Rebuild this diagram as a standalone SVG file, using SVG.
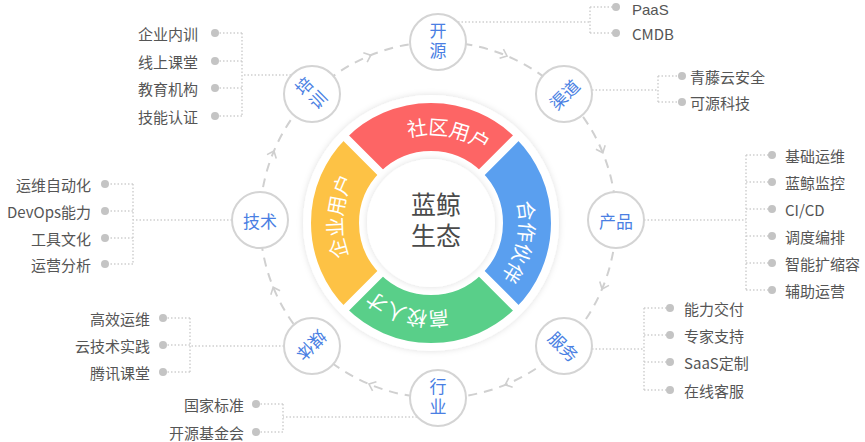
<svg xmlns="http://www.w3.org/2000/svg" width="865" height="442" viewBox="0 0 865 442">
<style>
.lst{font-family:"Noto Sans CJK SC","Liberation Sans",sans-serif;font-size:15px;fill:#555;dominant-baseline:central}
.sat{fill:#fff;stroke:#d4d4d4;stroke-width:2}
.st{font-family:"Noto Sans CJK SC","Liberation Sans",sans-serif;font-size:17px;fill:#4a7fe3;dominant-baseline:central;text-anchor:middle}
.vt{writing-mode:vertical-rl;letter-spacing:3px}
.seg{font-family:"Noto Sans CJK SC","Liberation Sans",sans-serif;font-size:20px;fill:#fff}
.ctr{font-family:"Liberation Sans","Noto Sans CJK SC",sans-serif;font-size:25px;fill:#4a4a4a;text-anchor:middle}
.dot{fill:#c4c4c4}
.dl{fill:none;stroke:#cfcfcf;stroke-width:1.5;stroke-dasharray:1.5 2}
.arw{fill:none;stroke:#cfcfcf;stroke-width:1.6}
</style>
<defs>
<filter id="sh" x="-20%" y="-20%" width="140%" height="140%"><feDropShadow dx="0" dy="0" stdDeviation="3" flood-color="#000" flood-opacity="0.13"/></filter>
<path id="chev" d="M-5,-5 L1,0 L-5,5"/>
<path id="pRed" d="M364.21,164.94 A88.5,88.5 0 0 1 514.68,194.19"/>
<path id="pBlue" d="M490.22,157.23 A88.5,88.5 0 0 1 458.35,307.17"/>
<path id="pGreen" d="M493.58,285.58 A88.5,88.5 0 0 1 345.52,245.91"/>
<path id="pYellow" d="M381.51,296.37 A88.5,88.5 0 0 1 392.20,143.46"/>
</defs>
<rect width="865" height="442" fill="#fff"/>

<g id="orbit">
<circle cx="438" cy="220" r="178" fill="none" stroke="#d0d0d0" stroke-width="2" stroke-dasharray="9 7"/>
<g class="arw">
<use href="#chev" transform="translate(506.12,55.55) rotate(22.5)"/>
<use href="#chev" transform="translate(602.45,151.88) rotate(67.5)"/>
<use href="#chev" transform="translate(602.45,288.12) rotate(112.5)"/>
<use href="#chev" transform="translate(506.12,384.45) rotate(157.5)"/>
<use href="#chev" transform="translate(369.88,384.45) rotate(202.5)"/>
<use href="#chev" transform="translate(273.55,288.12) rotate(247.5)"/>
<use href="#chev" transform="translate(273.55,151.88) rotate(292.5)"/>
<use href="#chev" transform="translate(369.88,55.55) rotate(337.5)"/>
</g>
</g>

<g id="connectors" class="dl">
<path d="M458,22 H590 M590,7 V33 M590,7 H612 M590,33 H612"/>
<path d="M592,90 H658 M658,76 V102 M658,76 H678 M658,102 H678"/>
<path d="M644,220 H746 M746,155 V290 M746,155 H768 M746,182 H768 M746,209 H768 M746,236 H768 M746,263 H768 M746,290 H768"/>
<path d="M592,349 H644 M644,308 V390 M644,308 H666 M644,335 H666 M644,362 H666 M644,390 H666"/>
<path d="M417,417 H283 M283,404 V432 M283,404 H260 M283,432 H260"/>
<path d="M284,346 H190 M190,318 V372 M190,318 H167 M190,345 H167 M190,372 H167"/>
<path d="M232,220 H133 M133,184 V264 M133,184 H109 M133,211 H109 M133,238 H109 M133,264 H109"/>
<path d="M291,75 H242 M242,33 V116 M242,33 H219 M242,61 H219 M242,88 H219 M242,116 H219"/>
</g>

<g id="core">
<circle cx="431" cy="223" r="128" fill="#fff" filter="url(#sh)"/>
<path d="M363.12,155.12 A96,96 0 0 1 498.88,155.12" fill="none" stroke="#fd6565" stroke-width="48"/>
<path d="M498.88,155.12 A96,96 0 0 1 498.88,290.88" fill="none" stroke="#5a9fef" stroke-width="48"/>
<path d="M498.88,290.88 A96,96 0 0 1 363.12,290.88" fill="none" stroke="#59cf89" stroke-width="48"/>
<path d="M363.12,290.88 A96,96 0 0 1 363.12,155.12" fill="none" stroke="#fdc245" stroke-width="48"/>
<path d="M343,135 L519,311 M519,135 L343,311" stroke="#fff" stroke-width="8"/>
<circle cx="431" cy="223" r="64" fill="#fff" filter="url(#sh)"/>
<text class="seg"><textPath href="#pRed" startOffset="50%" text-anchor="middle">社区用户</textPath></text>
<text class="seg"><textPath href="#pBlue" startOffset="50%" text-anchor="middle">合作伙伴</textPath></text>
<text class="seg"><textPath href="#pGreen" startOffset="50%" text-anchor="middle">高校人才</textPath></text>
<text class="seg"><textPath href="#pYellow" startOffset="50%" text-anchor="middle">企业用户</textPath></text>
<text class="ctr" x="436" y="214">蓝鲸</text>
<text class="ctr" x="436" y="245">生态</text>
</g>

<g id="node-kaiyuan">
<circle class="sat" cx="438" cy="42" r="28"/>
<text class="st vt" x="438" y="42">开源</text>
<circle class="dot" cx="616" cy="7" r="4"/><circle class="dot" cx="616" cy="33" r="4"/>
<text class="lst" x="632" y="9" style="font-family:'Liberation Sans','Noto Sans CJK SC',sans-serif">PaaS</text><text class="lst" x="632" y="33">CMDB</text>
</g>

<g id="node-qudao">
<circle class="sat" cx="564" cy="94" r="28"/>
<text class="st" transform="translate(564,94) rotate(-45)" x="0" y="0">渠道</text>
<circle class="dot" cx="682" cy="76" r="4"/><circle class="dot" cx="682" cy="102" r="4"/>
<text class="lst" x="690" y="76">青藤云安全</text><text class="lst" x="690" y="102">可源科技</text>
</g>

<g id="node-chanpin">
<circle class="sat" cx="616" cy="220" r="28"/>
<text class="st" x="616" y="220">产品</text>
<circle class="dot" cx="772" cy="155" r="4"/><circle class="dot" cx="772" cy="182" r="4"/><circle class="dot" cx="772" cy="209" r="4"/>
<circle class="dot" cx="772" cy="236" r="4"/><circle class="dot" cx="772" cy="263" r="4"/><circle class="dot" cx="772" cy="290" r="4"/>
<text class="lst" x="785" y="155">基础运维</text><text class="lst" x="785" y="182">蓝鲸监控</text><text class="lst" x="785" y="209">CI/CD</text>
<text class="lst" x="785" y="236">调度编排</text><text class="lst" x="785" y="263">智能扩缩容</text><text class="lst" x="785" y="290">辅助运营</text>
</g>

<g id="node-fuwu">
<circle class="sat" cx="564" cy="346" r="28"/>
<text class="st" transform="translate(564,346) rotate(45)" x="0" y="0">服务</text>
<circle class="dot" cx="670" cy="308" r="4"/><circle class="dot" cx="670" cy="335" r="4"/><circle class="dot" cx="670" cy="362" r="4"/><circle class="dot" cx="670" cy="390" r="4"/>
<text class="lst" x="684" y="308">能力交付</text><text class="lst" x="684" y="335">专家支持</text><text class="lst" x="684" y="362">SaaS定制</text><text class="lst" x="684" y="390">在线客服</text>
</g>

<g id="node-hangye">
<circle class="sat" cx="438" cy="398" r="28"/>
<text class="st vt" x="438" y="398">行业</text>
<circle class="dot" cx="256" cy="404" r="4"/><circle class="dot" cx="256" cy="432" r="4"/>
<text class="lst" x="244" y="404" text-anchor="end">国家标准</text><text class="lst" x="244" y="432" text-anchor="end">开源基金会</text>
</g>

<g id="node-meiti">
<circle class="sat" cx="312" cy="346" r="28"/>
<text class="st" transform="translate(312,346) rotate(135)" x="0" y="0">媒体</text>
<circle class="dot" cx="163" cy="318" r="4"/><circle class="dot" cx="163" cy="345" r="4"/><circle class="dot" cx="163" cy="372" r="4"/>
<text class="lst" x="150" y="318" text-anchor="end">高效运维</text><text class="lst" x="150" y="345" text-anchor="end">云技术实践</text><text class="lst" x="150" y="372" text-anchor="end">腾讯课堂</text>
</g>

<g id="node-jishu">
<circle class="sat" cx="260" cy="220" r="28"/>
<text class="st" x="260" y="220">技术</text>
<circle class="dot" cx="105" cy="184" r="4"/><circle class="dot" cx="105" cy="211" r="4"/><circle class="dot" cx="105" cy="238" r="4"/><circle class="dot" cx="105" cy="264" r="4"/>
<text class="lst" x="91" y="184" text-anchor="end">运维自动化</text><text class="lst" x="91" y="211" text-anchor="end">DevOps能力</text><text class="lst" x="91" y="238" text-anchor="end">工具文化</text><text class="lst" x="91" y="264" text-anchor="end">运营分析</text>
</g>

<g id="node-peixun">
<circle class="sat" cx="312" cy="94" r="28"/>
<text class="st vt" transform="translate(312,94) rotate(-45)" x="0" y="0">培训</text>
<circle class="dot" cx="215" cy="33" r="4"/><circle class="dot" cx="215" cy="61" r="4"/><circle class="dot" cx="215" cy="88" r="4"/><circle class="dot" cx="215" cy="116" r="4"/>
<text class="lst" x="198" y="33" text-anchor="end">企业内训</text><text class="lst" x="198" y="61" text-anchor="end">线上课堂</text><text class="lst" x="198" y="88" text-anchor="end">教育机构</text><text class="lst" x="198" y="116" text-anchor="end">技能认证</text>
</g>
</svg>
